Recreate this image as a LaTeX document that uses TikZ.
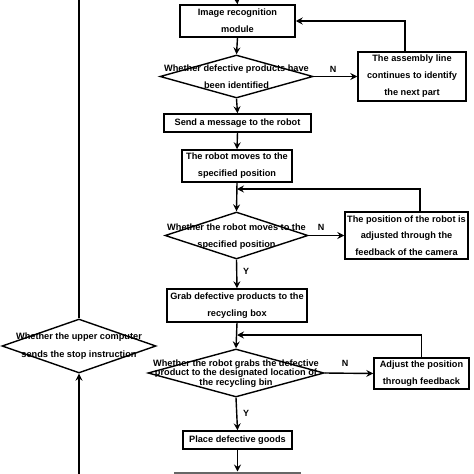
\documentclass[tikz,border=0pt]{standalone}
\usepackage{fontspec}
\setmainfont{Liberation Sans}
\usetikzlibrary{arrows.meta,shapes.geometric}
\begin{document}
\begin{tikzpicture}[x=1pt,y=-1pt,
 box/.style={draw,line width=1.5pt,inner sep=0pt,align=center,font=\fontsize{9.2}{17}\selectfont\bfseries},
 dia/.style={draw,diamond,line width=1.4pt,inner sep=0pt},
 dtxt/.style={align=center,inner sep=0pt,font=\fontsize{9.2}{17}\selectfont\bfseries},
 lab/.style={font=\fontsize{9}{10}\selectfont\bfseries,inner sep=0pt},
 arr/.style={line width=1.4pt,-{Stealth[length=7pt,width=7pt,inset=2.5pt]}},
 ln/.style={line width=1.4pt}]
\useasboundingbox (0,0) rectangle (474,474);
\clip (0,0) rectangle (474,474);
% center column
\node[box,minimum width=115,minimum height=32] (n1) at (237.5,21) {Image recognition\\module};
\node[dia,minimum width=153,minimum height=43] (d1) at (236.5,76.5) {};
\node[dtxt] (d1t) at (236.5,77) {Whether defective products have\\been identified};
\node[box,minimum width=147,minimum height=18] (n2) at (237.5,123) {Send a message to the robot};
\node[box,minimum width=110,minimum height=32] (n3) at (237,166) {The robot moves to the\\specified position};
\node[dia,minimum width=143,minimum height=47] (d2) at (236.5,235.5) {};
\node[dtxt] (d2t) at (236.5,236.5) {Whether the robot moves to the\\specified position};
\node[box,minimum width=140,minimum height=33] (n5) at (237,305.5) {Grab defective products to the\\recycling box};
\node[dia,minimum width=176,minimum height=48] (d3) at (236,373) {};
\node[dtxt,font=\fontsize{9.2}{9.8}\selectfont\bfseries] (d3t) at (236,373.5) {Whether the robot grabs the defective\\product to the designated location of\\the recycling bin};
\node[box,minimum width=109,minimum height=18] (n7) at (237.5,440) {Place defective goods};
\node[draw=black!60,line width=2.5pt,minimum width=125,minimum height=30,anchor=north] (n9) at (237.5,471.5) {};
% right column
\node[box,minimum width=108,minimum height=49] (n8) at (412,76.5) {The assembly line\\continues to identify\\the next part};
\node[box,minimum width=123,minimum height=47,font=\fontsize{9.2}{16.5}\selectfont\bfseries] (n4) at (406.5,235.5) {The position of the robot is\\adjusted through the\\feedback of the camera};
\node[box,minimum width=95,minimum height=31] (n6) at (421.5,373.5) {Adjust the position\\through feedback};
% left
\node[dia,minimum width=154,minimum height=54] (d4) at (79,346) {};
\node[dtxt,font=\fontsize{9.2}{18}\selectfont\bfseries] (d4t) at (79,346.5) {Whether the upper computer\\sends the stop instruction};
% labels
\node[lab] (N1) at (333,69) {N};
\node[lab] (N2) at (321,227) {N};
\node[lab] (N3) at (345,363) {N};
\node[lab] (Y1) at (246,271) {Y};
\node[lab] (Y2) at (246,413) {Y};
% coordinates
\coordinate (t0) at (237,0);
\coordinate (j1) at (237,189);
\coordinate (j2) at (237,335);
\coordinate (l0) at (79,0);
\coordinate (l1) at (79,474);
% connectors
\draw[arr] (t0) -- (n1.north);
\draw[arr] (n1.south) -- (d1.north);
\draw[arr] (d1.south) -- (n2.north);
\draw[arr] (n2.south) -- (n3.north);
\draw[arr] (n3.south) -- (d2.north);
\draw[arr] (d2.south) -- (n5.north);
\draw[arr] (n5.south) -- (d3.north);
\draw[arr] (d3.south) -- (n7.north);
\draw[arr] (n7.south) -- (n9.north);
\draw[arr] (d1.east) -- (n8.west);
\draw[arr] (d2.east) -- (n4.west);
\draw[arr] (d3.east) -- (n6.west);
\draw[arr] ([xshift=-7pt]n8.north) |- (n1.east);
\draw[arr] ([xshift=13.5pt]n4.north) |- (j1);
\draw[arr] (n6.north) |- (j2);
\draw[ln] (d4.north) -- (l0);
\draw[arr] (l1) -- (d4.south);
\end{tikzpicture}
\end{document}
